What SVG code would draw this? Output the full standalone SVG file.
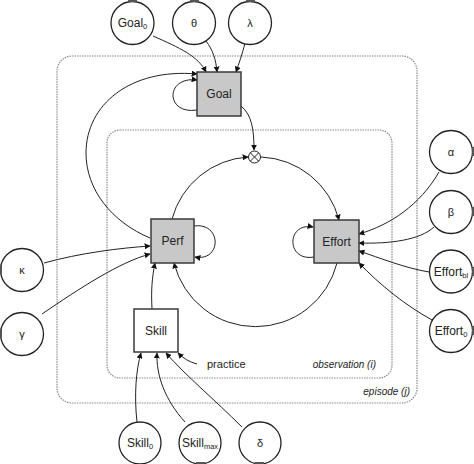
<svg xmlns="http://www.w3.org/2000/svg" width="474" height="464" viewBox="0 0 474 464">
<defs>
<marker id="ah" viewBox="0 0 10 10" refX="9" refY="5" markerWidth="6" markerHeight="6" markerUnits="userSpaceOnUse" orient="auto">
<path d="M0,0 L10,5 L0,10 z" fill="#111"/>
</marker>
<style>
.frame{fill:none;stroke:#8a8a8a;stroke-width:1.2;stroke-dasharray:1.5 1}
.var{fill:#fff;stroke:#222;stroke-width:1.3}
.box{fill:#c8c8c8;stroke:#3a3a3a;stroke-width:1.5}
.wbox{fill:#fff;stroke:#3a3a3a;stroke-width:1.5}
.t{font-family:"Liberation Sans",Arial,sans-serif;font-size:12px;fill:#222;text-anchor:middle}
.g{font-family:"Liberation Sans",Arial,sans-serif;font-size:11px;fill:#222;text-anchor:middle}
.sub{font-size:7.5px}
.it{font-family:"Liberation Sans",Arial,sans-serif;font-size:10px;font-style:italic;fill:#222;text-anchor:end}
.c path{fill:none;stroke:#222;stroke-width:1;marker-end:url(#ah)}
.mark{fill:#555}
</style>
</defs>
<rect width="474" height="464" fill="#fff"/>

<g id="plates">
<rect class="frame" x="57" y="56" width="360" height="347" rx="15"/>
<rect class="frame" x="107" y="130" width="285" height="248" rx="13"/>
<text class="it" x="376" y="368">observation (i)</text>
<text class="it" x="410" y="395">episode (j)</text>
</g>

<g class="c" id="connectors">
<path d="M153,36 C180,48 198,56 206,72"/>
<path d="M206,41 C213,50 216,60 217,72"/>
<path d="M245,43 C242,55 239,63 236,72"/>
<path d="M197,110 C165,115 165,76 197,80"/>
<path d="M150,238 C112,222 86,190 86,153 C86,105 130,68 197,74"/>
<path d="M241,106 C252,115 254,130 254,150"/>
<path d="M172,219 A 84 84 0 0 1 248,157"/>
<path d="M261,157 A 84 84 0 0 1 339,220"/>
<path d="M337,263 A 84 84 0 0 1 174,263"/>
<path d="M194,226 C222,222 222,262 195,257"/>
<path d="M314,257 C286,262 286,222 313,227"/>
<path d="M44,263 C80,253 120,248 150,246"/>
<path d="M42,314 C80,288 120,262 150,254"/>
<path d="M152,309 C151,290 152,278 155,263"/>
<path d="M439,172 C420,205 390,225 359,234"/>
<path d="M434,227 C420,240 390,244 359,243"/>
<path d="M429,272 C405,268 380,258 359,251"/>
<path d="M432,320 C405,305 380,285 359,263"/>
<path d="M137,422 C134,395 136,370 141,353"/>
<path d="M185,422 C165,400 156,375 157,353"/>
<path d="M242,427 C215,400 185,375 166,353"/>
<path d="M197,364 C189,362 183,358 178,353"/>
</g>

<g id="otimes">
<circle cx="254.5" cy="157" r="6" fill="#fff" stroke="#222" stroke-width="1"/>
<path d="M250.3,152.8 L258.7,161.2 M258.7,152.8 L250.3,161.2" stroke="#222" stroke-width="1"/>
</g>

<g id="goal"><rect class="box" x="197" y="72" width="44" height="44"/><text class="t" x="219" y="98">Goal</text></g>
<g id="perf"><rect class="box" x="151" y="219" width="43" height="44"/><text class="t" x="172.5" y="245">Perf</text></g>
<g id="effort"><rect class="box" x="314" y="220" width="45" height="43"/><text class="t" x="336.5" y="246">Effort</text></g>
<g id="skill"><rect class="wbox" x="134" y="309" width="44" height="43"/><text class="t" x="156" y="335">Skill</text></g>

<g id="goal0"><circle class="var" cx="132.5" cy="23" r="21.5"/><rect class="mark" x="128" y="0" width="9" height="2"/><text class="t" x="132.5" y="27">Goal<tspan class="sub" dy="2">0</tspan></text></g>
<g id="theta"><circle class="var" cx="194" cy="23" r="21.5"/><rect class="mark" x="190" y="0" width="9" height="2"/><text class="g" x="194" y="27">θ</text></g>
<g id="lambda"><circle class="var" cx="250" cy="23" r="21.5"/><rect class="mark" x="246" y="0" width="9" height="2"/><text class="g" x="250" y="27">λ</text></g>

<g id="alpha"><circle class="var" cx="451" cy="152" r="21.5"/><rect class="mark" x="472" y="147" width="2" height="9"/><text class="g" x="451" y="156">α</text></g>
<g id="beta"><circle class="var" cx="451" cy="212" r="21.5"/><rect class="mark" x="472" y="207" width="2" height="9"/><text class="g" x="451" y="216">β</text></g>
<g id="effortbl"><circle class="var" cx="451" cy="271.5" r="21.5"/><rect class="mark" x="472" y="267" width="2" height="9"/><text class="t" x="451" y="275.5">Effort<tspan class="sub" dy="2">bl</tspan></text></g>
<g id="effort0"><circle class="var" cx="451" cy="331" r="21.5"/><rect class="mark" x="472" y="326" width="2" height="9"/><text class="t" x="451" y="335">Effort<tspan class="sub" dy="2">0</tspan></text></g>

<g id="kappa"><circle class="var" cx="22" cy="270" r="21.5"/><rect class="mark" x="0" y="265" width="2" height="9"/><text class="g" x="22" y="274">κ</text></g>
<g id="gamma"><circle class="var" cx="22" cy="334" r="21.5"/><rect class="mark" x="0" y="329" width="2" height="9"/><text class="g" x="22" y="338">γ</text></g>

<g id="skill0"><circle class="var" cx="140" cy="443" r="21"/><text class="t" x="140" y="447">Skill<tspan class="sub" dy="2">0</tspan></text></g>
<g id="skillmax"><circle class="var" cx="200" cy="443" r="21"/><rect class="mark" x="196" y="462" width="9" height="2"/><text class="t" x="200" y="447">Skill<tspan class="sub" dy="2">max</tspan></text></g>
<g id="delta"><circle class="var" cx="260" cy="443" r="21"/><rect class="mark" x="255" y="462" width="9" height="2"/><text class="g" x="260" y="447">δ</text></g>

<g id="practice"><text class="g" x="207" y="368" style="text-anchor:start">practice</text></g>
</svg>
